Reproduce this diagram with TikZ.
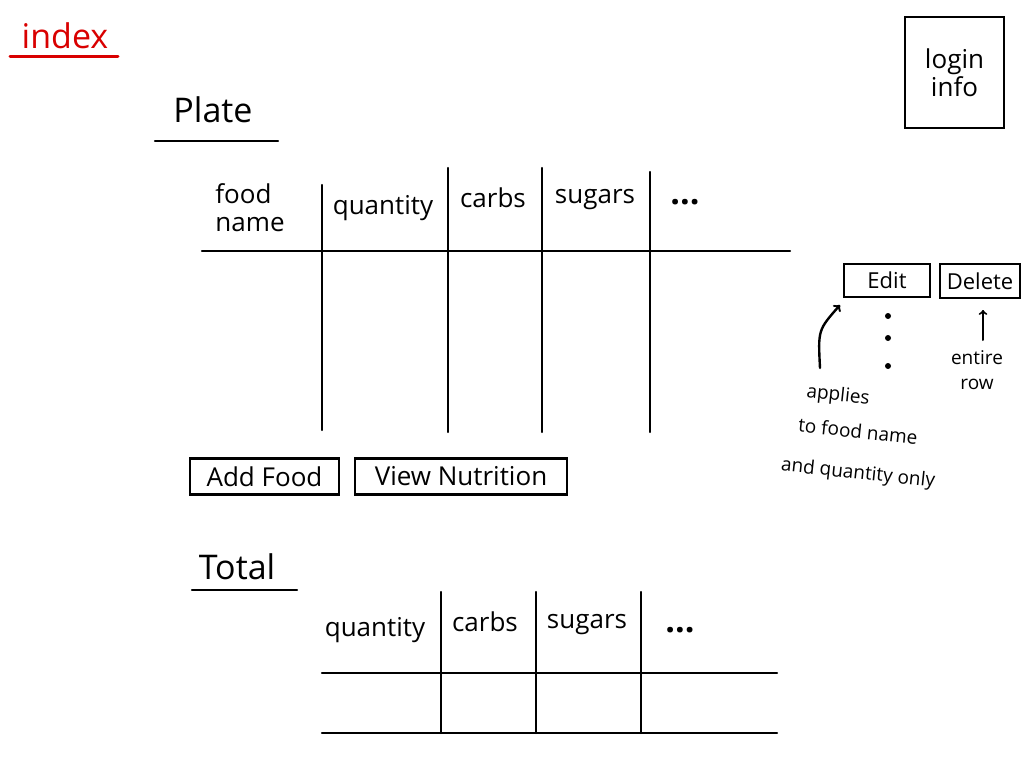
\documentclass[tikz,border=0pt]{standalone}
\usepackage{fontspec}
\setmainfont{Open Sans}
\begin{document}
\begin{tikzpicture}[x=1pt,y=-1pt,
  ln/.style={line width=2.2pt,line cap=round},
  btn/.style={draw,line width=2.6pt,minimum height=36pt,inner sep=0pt},
  lbl/.style={font=\fontsize{26}{28}\selectfont},
  sm/.style={font=\fontsize{19}{25}\selectfont,align=center},
  smr/.style={font=\fontsize{19}{21}\selectfont,rotate=-6,inner sep=0pt}]
\useasboundingbox[fill=white] (0,0) rectangle (1024,768);
% title
\node[lbl,text=red!85!black,font=\fontsize{34}{36}\selectfont] (idx) at (65,36) {index};
\draw[ln,red!85!black,line width=3pt] (10,57) -- (118,57);
\node[draw,line width=2pt,minimum width=99pt,minimum height=111pt,lbl,align=center] (login) at (954.5,72.5) {login\\info};
% plate
\node[font=\fontsize{34}{36}\selectfont] (plate) at (213,110) {Plate};
\draw[ln] (155,141) -- (278,141);
\draw[ln] (202,251) -- (790,251);
\draw[ln] (322,185) -- (322,430);
\draw[ln] (448,168) -- (448,432);
\draw[ln] (542,168) -- (542,432);
\draw[ln] (650,172) -- (650,432);
\node[lbl,align=left] (fn) at (250,208) {food\\name};
\node[lbl] (q1) at (383,208) {quantity};
\node[lbl] (c1) at (493,198) {carbs};
\node[lbl] (s1) at (595,200) {sugars};
\node[font=\fontsize{34}{36}\selectfont] (d1) at (685,202) {\textbf{...}};
\node[btn,minimum width=149pt,lbl] (add) at (264.5,476.5) {Add Food};
\node[btn,minimum width=212pt,lbl] (view) at (461,476.5) {View Nutrition};
% edit/delete
\node[btn,minimum width=86pt,minimum height=33pt,font=\fontsize{22}{24}\selectfont] (edit) at (887,280.5) {Edit};
\node[btn,minimum width=80pt,minimum height=34pt,font=\fontsize{22}{24}\selectfont] (del) at (980,281) {Delete};
\foreach \yy in {316,338,366} \fill (888,\yy) circle (3pt);
\node[sm] (ent) at (977,370) {entire\\row};
\draw[ln,->,line width=2pt] (983,340) -- (983,310);
\node[smr] (app1) at (838,396) {applies};
\node[smr] (app2) at (858,431) {to food name};
\node[smr] (app3) at (858,474) {and quantity only};
\coordinate (a0) at (820,368);
\draw[ln,->,line width=2.4pt] (a0) .. controls (818,330) .. (840,305);
% total
\node[font=\fontsize{34}{36}\selectfont] (tot) at (237,567) {Total};
\draw[ln] (192,590) -- (297,590);
\draw[ln] (322,673) -- (777,673);
\draw[ln] (322,733) -- (777,733);
\draw[ln] (441,592) -- (441,733);
\draw[ln] (536,592) -- (536,733);
\draw[ln] (641,592) -- (641,733);
\node[lbl] (q2) at (375,630) {quantity};
\node[lbl] (c2) at (485,622) {carbs};
\node[lbl] (s2) at (587,625) {sugars};
\node[font=\fontsize{34}{36}\selectfont] (d2) at (680,630) {\textbf{...}};
\end{tikzpicture}
\end{document}
